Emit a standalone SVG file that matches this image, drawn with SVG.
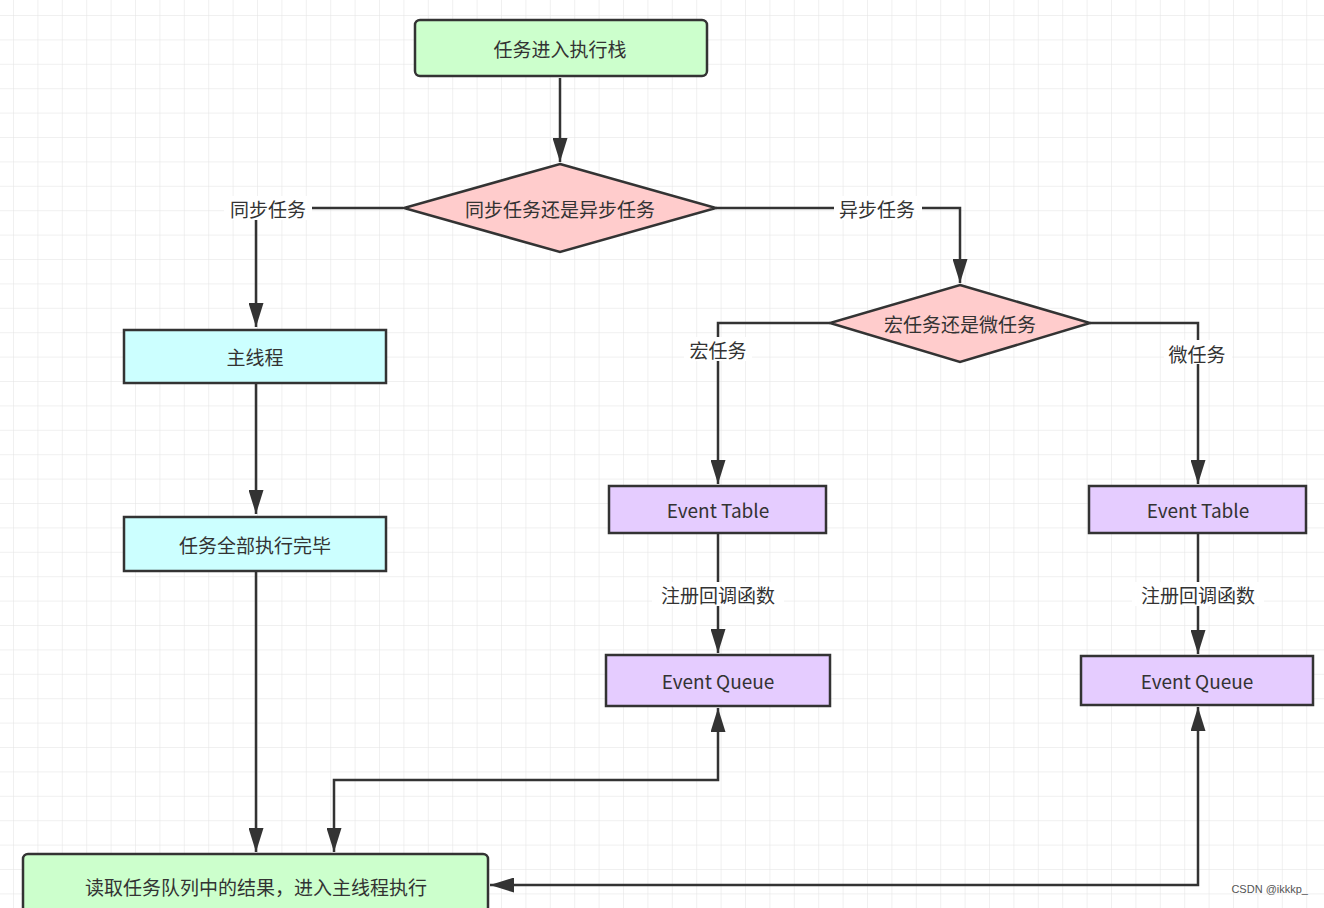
<svg xmlns="http://www.w3.org/2000/svg" width="1324" height="908" viewBox="0 0 1324 908">
<defs>
<pattern id="g" x="13" y="15" width="24.4" height="24.4" patternUnits="userSpaceOnUse"><path d="M0 0H24.4M0 0V24.4" stroke="#e2e2e2" stroke-width="1" fill="none"/></pattern>
<marker id="a" viewBox="0 0 10 10" refX="10" refY="5" markerWidth="24" markerHeight="15" orient="auto-start-reverse" markerUnits="userSpaceOnUse" preserveAspectRatio="none"><path d="M0 0L10 5L0 10Z" fill="#333"/></marker>
<style>
.n{stroke:#333;stroke-width:2.5}
.t{font-family:"Noto Sans CJK SC","Liberation Sans",sans-serif;font-size:19px;fill:#333;text-anchor:middle;dominant-baseline:central}
.c path{fill:none;stroke:#333;stroke-width:2.5;marker-end:url(#a)}
.c path.b{marker-start:url(#a)}
</style>
</defs>
<rect width="1324" height="908" fill="#fff"/>
<rect width="1324" height="908" fill="url(#g)"/>
<g class="c">
<path d="M560 78V162"/>
<path d="M403 208H256V327"/>
<path d="M716 208H960V283"/>
<path d="M830 323H718V484"/>
<path d="M1090 323H1198V484"/>
<path d="M256 384V514"/>
<path d="M256 572V852"/>
<path d="M718 534V653"/>
<path d="M1198 534V654"/>
<path class="b" d="M718 708V780H334V852"/>
<path class="b" d="M1198 707V885H490"/>
</g>
<g id="n1"><rect class="n" x="415" y="20" width="292" height="56" rx="5" fill="#ccffcc"/><text class="t" x="560" y="48">任务进入执行栈</text></g>
<g id="n2"><polygon class="n" points="560,164 716,208 560,252 404,208" fill="#ffcccc"/><text class="t" x="560" y="208">同步任务还是异步任务</text></g>
<g id="n3"><rect class="n" x="124" y="330" width="262" height="53" fill="#ccffff"/><text class="t" x="255" y="356">主线程</text></g>
<g id="n4"><rect class="n" x="124" y="517" width="262" height="54" fill="#ccffff"/><text class="t" x="255" y="544">任务全部执行完毕</text></g>
<g id="n5"><polygon class="n" points="960,285 1090,323 960,362 830,323" fill="#ffcccc"/><text class="t" x="960" y="323">宏任务还是微任务</text></g>
<g id="n6"><rect class="n" x="609" y="486" width="217" height="47" fill="#e5ccff"/><text class="t" x="718" y="509">Event Table</text></g>
<g id="n7"><rect class="n" x="1089" y="486" width="217" height="47" fill="#e5ccff"/><text class="t" x="1198" y="509">Event Table</text></g>
<g id="n8"><rect class="n" x="606" y="655" width="224" height="51" fill="#e5ccff"/><text class="t" x="718" y="680">Event Queue</text></g>
<g id="n9"><rect class="n" x="1081" y="656" width="232" height="49" fill="#e5ccff"/><text class="t" x="1197" y="680">Event Queue</text></g>
<g id="n10"><rect class="n" x="23" y="854" width="465" height="70" rx="5" fill="#ccffcc"/><text class="t" x="256" y="886">读取任务队列中的结果，进入主线程执行</text></g>
<g id="labels">
<rect x="224" y="196" width="88" height="24" fill="#fff"/><text class="t" x="268" y="208">同步任务</text>
<rect x="834" y="196" width="88" height="24" fill="#fff"/><text class="t" x="877" y="208">异步任务</text>
<rect x="684" y="337" width="68" height="24" fill="#fff"/><text class="t" x="718" y="349">宏任务</text>
<rect x="1164" y="340" width="68" height="24" fill="#fff"/><text class="t" x="1197" y="353">微任务</text>
<rect x="652" y="582" width="132" height="24" fill="#fff"/><text class="t" x="718" y="594">注册回调函数</text>
<rect x="1132" y="582" width="132" height="24" fill="#fff"/><text class="t" x="1198" y="594">注册回调函数</text>
<text x="1308" y="893" style="font-family:'Liberation Sans',sans-serif;font-size:11px;fill:#555;text-anchor:end">CSDN @ikkkp_</text>
</g>
</svg>
